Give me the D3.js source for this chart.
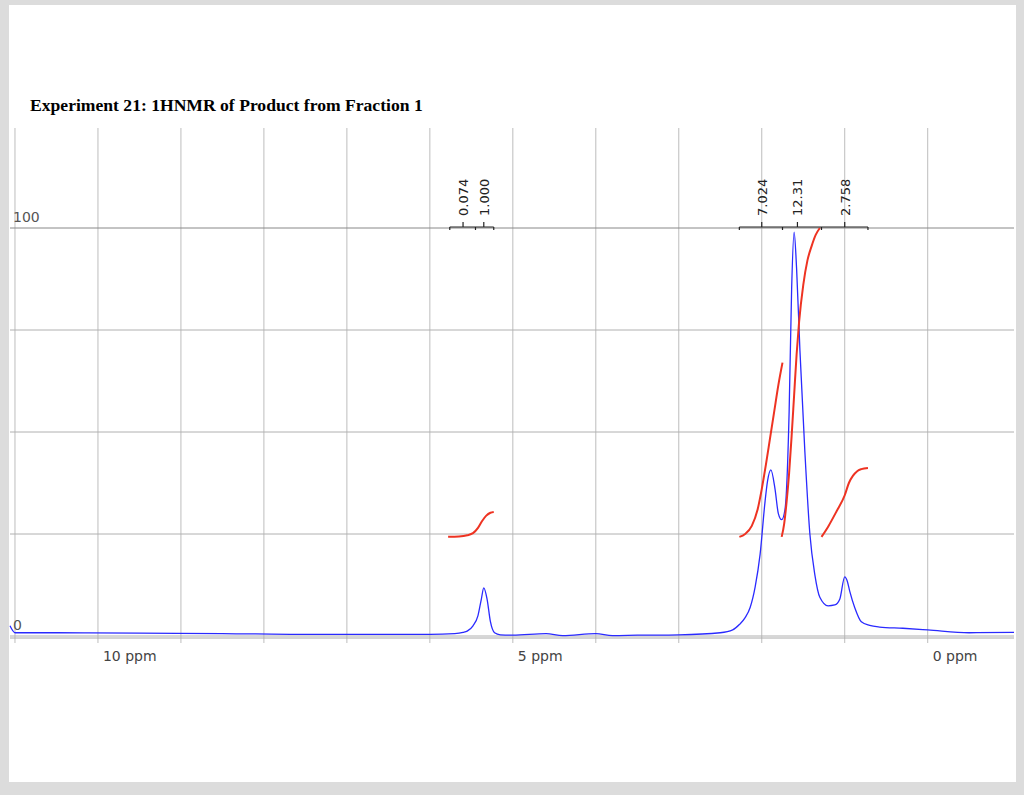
<!DOCTYPE html>
<html><head><meta charset="utf-8">
<script src="https://cdn.jsdelivr.net/npm/d3@7"></script>
<style>body{margin:0;background:#dcdcdc;}svg{display:block;}</style>
</head><body>
<svg id="c" width="1024" height="795"></svg>
<script>
const title = "Experiment 21: 1HNMR of Product from Fraction 1";
const spectrumPpm = [11.06,11.0,10.5,9.5,8.5,7.5,6.5,6.0,5.7,5.6,5.55,5.48,5.42,5.38,5.35,5.31,5.27,5.22,5.15,5.0,4.6,4.4,4.0,3.8,3.5,3.0,2.5,2.35,2.27,2.2,2.14,2.08,2.02,1.96,1.93,1.89,1.84,1.80,1.76,1.72,1.67,1.64,1.61,1.58,1.54,1.48,1.42,1.36,1.30,1.20,1.12,1.06,1.0,0.97,0.94,0.88,0.80,0.70,0.58,0.3,0.0,-0.5,-1.04];
const spectrumVal = [2.5,0.8,0.8,0.7,0.6,0.4,0.4,0.4,0.6,0.9,1.2,2.5,5.0,9.0,11.8,9.0,3.5,0.8,0.3,0.2,0.6,0.1,0.6,0.1,0.2,0.3,0.8,1.5,2.8,4.5,7.0,12.0,20.0,33.0,38.0,40.7,36.0,30.0,28.5,31.0,55.0,85.0,99.0,90.0,70.0,45.0,25.0,15.0,9.5,7.4,7.6,9.0,14.5,13.5,11.0,7.0,3.5,2.6,2.2,1.9,1.5,0.8,0.9];
const integralSegments = [
  {ppm:[5.78,5.65,5.55,5.48,5.42,5.37,5.32,5.27,5.23], val:[24.3,24.4,24.7,25.2,26.5,28.2,29.5,30.2,30.4]},
  {ppm:[2.27,2.2,2.12,2.05,2.0,1.95,1.9,1.85,1.8,1.75], val:[24.3,25.0,27.0,31.0,36.0,42.0,48.5,55.0,61.5,67.0]},
  {ppm:[1.76,1.73,1.70,1.67,1.64,1.61,1.58,1.55,1.5,1.45,1.4,1.35,1.30], val:[24.3,27.5,33.0,40.0,49.0,59.0,69.0,77.0,86.0,92.0,95.5,98.3,100.0]},
  {ppm:[1.28,1.2,1.1,1.0,0.95,0.9,0.85,0.8,0.72], val:[24.3,26.8,30.5,34.5,37.5,39.3,40.4,40.9,41.2]}
];
const brackets = [
  {from:5.76, to:5.23, divs:[5.45], ticks:[5.60,5.35], labels:["0.074","1.000"]},
  {from:2.27, to:0.72, divs:[1.75,1.28], ticks:[2.0,1.57,1.0], labels:["7.024","12.31","2.758"]}
];
const xTickLabels = [{ppm:10,t:"10 ppm"},{ppm:5,t:"5 ppm"},{ppm:0,t:"0 ppm"}];
const yGridVals = [0,25,50,75,100];
const yLabels = [{v:100,t:"100"},{v:0,t:"0"}];

const svg = d3.select("#c");
svg.append("rect").attr("x",9).attr("y",5).attr("width",1007).attr("height",777).attr("fill","#fff");
const x = d3.scaleLinear().domain([11.06,-1.04]).range([10,1014]);
const y = d3.scaleLinear().domain([0,100]).range([636,228]);
const plotTop = 128, plotBot = 638;
const gridPpm = d3.range(11,-1,-1);
svg.append("g").selectAll("line").data(gridPpm).join("line")
  .attr("x1",d=>x(d)).attr("x2",d=>x(d)).attr("y1",plotTop).attr("y2",plotBot+5)
  .attr("stroke","#bdbdbd").attr("stroke-width",1);
svg.append("g").selectAll("line").data(yGridVals).join("line")
  .attr("x1",10).attr("x2",1014).attr("y1",d=>y(d)).attr("y2",d=>y(d))
  .attr("stroke",d=>d===100?"#888":"#b0b0b0").attr("stroke-width",1);
svg.append("line").attr("x1",10).attr("x2",1014).attr("y1",plotBot).attr("y2",plotBot).attr("stroke","#aaa");
svg.selectAll(".yl").data(yLabels).join("text").attr("x",13).attr("y",d=>y(d.v)-6)
  .attr("font-family","DejaVu Sans").attr("font-size",14).attr("fill","#555").text(d=>d.t);
svg.selectAll(".xl").data(xTickLabels).join("text").attr("x",d=>x(d.ppm)+5).attr("y",661)
  .attr("font-family","DejaVu Sans").attr("font-size",14).attr("fill","#444").text(d=>d.t);
svg.append("text").attr("x",30).attr("y",111).attr("font-family","Liberation Serif")
  .attr("font-weight","bold").attr("font-size",17.6).text(title);

const line = d3.line().x(d=>x(d[0])).y(d=>y(d[1])).curve(d3.curveMonotoneX);
svg.append("path").datum(d3.zip(spectrumPpm,spectrumVal)).attr("d",line)
  .attr("fill","none").attr("stroke","#2a2aff").attr("stroke-width",1.3);
integralSegments.forEach(s=>{
  svg.append("path").datum(d3.zip(s.ppm,s.val)).attr("d",line)
    .attr("fill","none").attr("stroke","#ee3322").attr("stroke-width",2);
});
const by = y(100);
brackets.forEach(b=>{
  const g = svg.append("g").attr("stroke","#222").attr("stroke-width",1.2);
  g.append("line").attr("x1",x(b.from)).attr("x2",x(b.to)).attr("y1",by-1).attr("y2",by-1);
  [b.from,b.to].concat(b.divs).forEach(p=>g.append("line").attr("x1",x(p)).attr("x2",x(p)).attr("y1",by-1).attr("y2",by+2));
  b.ticks.forEach(p=>g.append("line").attr("x1",x(p)).attr("x2",x(p)).attr("y1",by-1).attr("y2",by-6));
  b.ticks.forEach((p,i)=>svg.append("text").attr("transform",`translate(${x(p)+5},${by-12}) rotate(-90)`)
    .attr("font-family","DejaVu Sans").attr("font-size",13).attr("fill","#222").text(b.labels[i]));
});
</script>
</body></html>
